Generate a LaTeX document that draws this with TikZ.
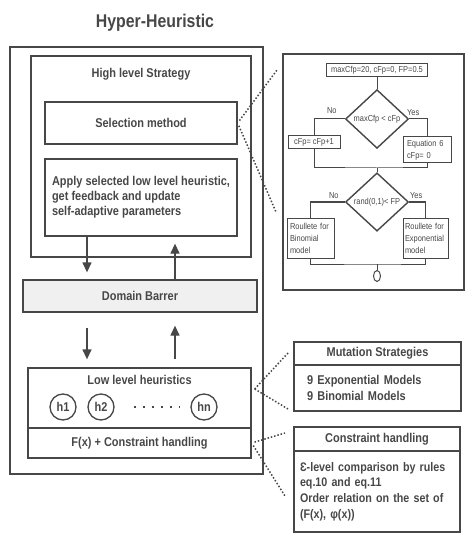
\documentclass[tikz,border=0pt]{standalone}
\usepackage{fontspec}
\setmainfont{Liberation Sans}[FakeStretch=0.86]
\usetikzlibrary{arrows.meta}
\usetikzlibrary{positioning}
\usetikzlibrary{shapes.geometric}
\definecolor{mgray}{rgb}{0.28, 0.28, 0.28}
\definecolor{mlight}{rgb}{0.94, 0.94, 0.94}

\begin{document}
\begin{tikzpicture}[x=1bp, y=-1bp, mgray, line width=1.3bp,
    lbl/.style={font=\fontsize{12.8}{15}\selectfont\bfseries},
    mbox/.style={draw, rectangle, inner sep=0pt, lbl},
    hcirc/.style={draw, circle, minimum size=26bp, inner sep=0pt, lbl},
    fctext/.style={font=\fontsize{8.7}{12}\selectfont, inner sep=1bp},
    fcbox/.style={draw, rectangle, line width=1bp, inner sep=0pt, fctext},
    fcdia/.style={draw, diamond, line width=1.4bp, minimum width=63bp, minimum height=43bp, inner sep=0pt, fctext},
    fcline/.style={line width=1bp},
    arr/.style={-{Triangle[length=10bp, width=9bp]}},
    dots/.style={line width=1.5bp, dash pattern=on 1.5bp off 1.9bp}]
  \useasboundingbox (0,0) rectangle (474,539);

  \node[font=\fontsize{18.5}{20}\selectfont\bfseries] (title) at (155,23) {Hyper-Heuristic};
  \node[mbox, minimum width=253bp, minimum height=427bp] (outer) at (136.5,260.5) {};

  % high level part
  \node[mbox, minimum width=220bp, minimum height=201bp, label={[lbl, below=9bp]north:High level Strategy}] (high) at (141,156.5) {};
  \node[mbox, minimum width=192bp, minimum height=42bp] (sel) at (141,123) {Selection method};
  \node[mbox, minimum width=192bp, minimum height=77bp, align=left] (apply) at (141,197.5) {Apply selected low level heuristic,\\get feedback and update\\self-adaptive parameters};
  \node[mbox, fill=mlight, minimum width=234bp, minimum height=32bp] (domain) at (140,296) {Domain Barrer};

  % low level part
  \node[mbox, minimum width=223bp, minimum height=60bp, label={[lbl, below=4bp]north:Low level heuristics}] (low) at (139.5,398) {};
  \node[mbox, minimum width=223bp, minimum height=30bp] (fx) at (139.5,443) {F(x) + Constraint handling};
  \node[hcirc] (h1) at (63,407) {h1};
  \node[hcirc] (h2) at (101,407) {h2};
  \node[hcirc] (hn) at (204,407) {hn};
  \draw[line width=2bp, dash pattern=on 2bp off 7bp, shorten <=19bp, shorten >=11bp] (h2) -- (hn);

  \coordinate (dl) at (87,0);
  \coordinate (ur) at (175,0);
  \draw[arr, shorten >=7bp] (apply.south -| dl) -- (domain.north -| dl);
  \draw[arr, shorten >=7bp] (domain.north -| ur) -- (apply.south -| ur);
  \draw[arr, shorten <=15bp, shorten >=8bp] (domain.south -| dl) -- (low.north -| dl);
  \draw[arr, shorten <=8bp, shorten >=13bp] (low.north -| ur) -- (domain.south -| ur);

  % selection flow chart
  \node[mbox, minimum width=181bp, minimum height=236bp] (flow) at (373.5,172) {};
  \node[fcbox, minimum width=101bp, minimum height=13bp] (init) at (377,70.5) {maxCfp=20, cFp=0, FP=0.5};
  \node[fcdia] (d1) at (377,119) {maxCfp < cFp};
  \node[fcbox, minimum width=52bp, minimum height=13bp] (c1) at (314,142.5) {cFp= cFp+1};
  \node[fcbox, text width=40bp, inner xsep=4bp, align=left, minimum height=26bp] (e6) at (427,150) {Equation 6\\cFp= 0};
  \coordinate (m1) at (377,168);
  \node[fcdia] (d2) at (377,202) {rand(0,1)< FP};
  \node[fcbox, text width=41bp, inner xsep=3bp, align=left, minimum height=40bp] (rb) at (310.5,238) {Roullete for\\Binomial\\model};
  \node[fcbox, text width=41bp, inner xsep=2bp, align=left, minimum height=40bp] (re) at (425.5,238) {Roullete for\\Exponential\\model};
  \coordinate (m2) at (377,264);
  \node[draw, ellipse, line width=1bp, minimum width=7bp, minimum height=11bp, inner sep=0pt] (stop) at (377,276) {};

  \node[fctext, above=4bp of d1.west, xshift=-13bp] (no1) {No};
  \node[fctext, above=2bp of d1.east, xshift=4bp] (yes1) {Yes};
  \node[fctext, above=2bp of d2.west, xshift=-11bp] (no2) {No};
  \node[fctext, above=2bp of d2.east, xshift=7bp] (yes2) {Yes};

  \draw[fcline] (init.south) -- (d1.north);
  \draw[fcline] (d1.west) -| (c1.north);
  \draw[fcline] (d1.east) -| (e6.north);
  \draw[fcline] (c1.south) |- (m1) -| (e6.south);
  \draw[fcline] (m1) -- (d2.north);
  \draw[fcline] (d2.west) -| (rb.north);
  \draw[fcline] (d2.east) -| (re.north);
  \draw[fcline] (rb.south) |- (m2) -| (re.south);
  \draw[fcline] (m2) -- (stop.north);

  % mutation and constraint boxes
  \node[mbox, minimum width=167bp, minimum height=23bp] (mtitle) at (377.5,353.5) {Mutation Strategies};
  \node[mbox, minimum width=167bp, minimum height=46bp, text width=141bp, inner xsep=13bp, align=left, font=\fontsize{12.8}{16}\selectfont\bfseries] (mbody) at (377.5,388) {9 Exponential Models\\9 Binomial Models};
  \node[mbox, minimum width=166bp, minimum height=24bp] (ctitle) at (377,439) {Constraint handling};
  \node[mbox, minimum width=166bp, minimum height=81bp, text width=154bp, inner xsep=6bp, align=left, font=\fontsize{12.5}{15.7}\selectfont\bfseries] (cbody) at (377,491.5) {Ɛ-level comparison by rules\\eq.10 and eq.11\\Order relation on the set of\\(F(x), φ(x))};

  % dotted call-outs
  \coordinate (s1) at (277,70);
  \coordinate (s2) at (276,212);
  \coordinate (l1) at (288,353);
  \coordinate (l2) at (288,409);
  \coordinate (f1) at (285,433);
  \coordinate (f2) at (285,496);
  \draw[dots, shorten <=3bp] (sel.east) -- (s1);
  \draw[dots, shorten <=3bp] (sel.east) -- (s2);
  \draw[dots] ([xshift=3bp, yshift=9bp]low.east) -- (l1);
  \draw[dots] ([xshift=3bp, yshift=9bp]low.east) -- (l2);
  \draw[dots, shorten <=3bp] (fx.east) -- (f1);
  \draw[dots, shorten <=3bp] (fx.east) -- (f2);
\end{tikzpicture}
\end{document}
